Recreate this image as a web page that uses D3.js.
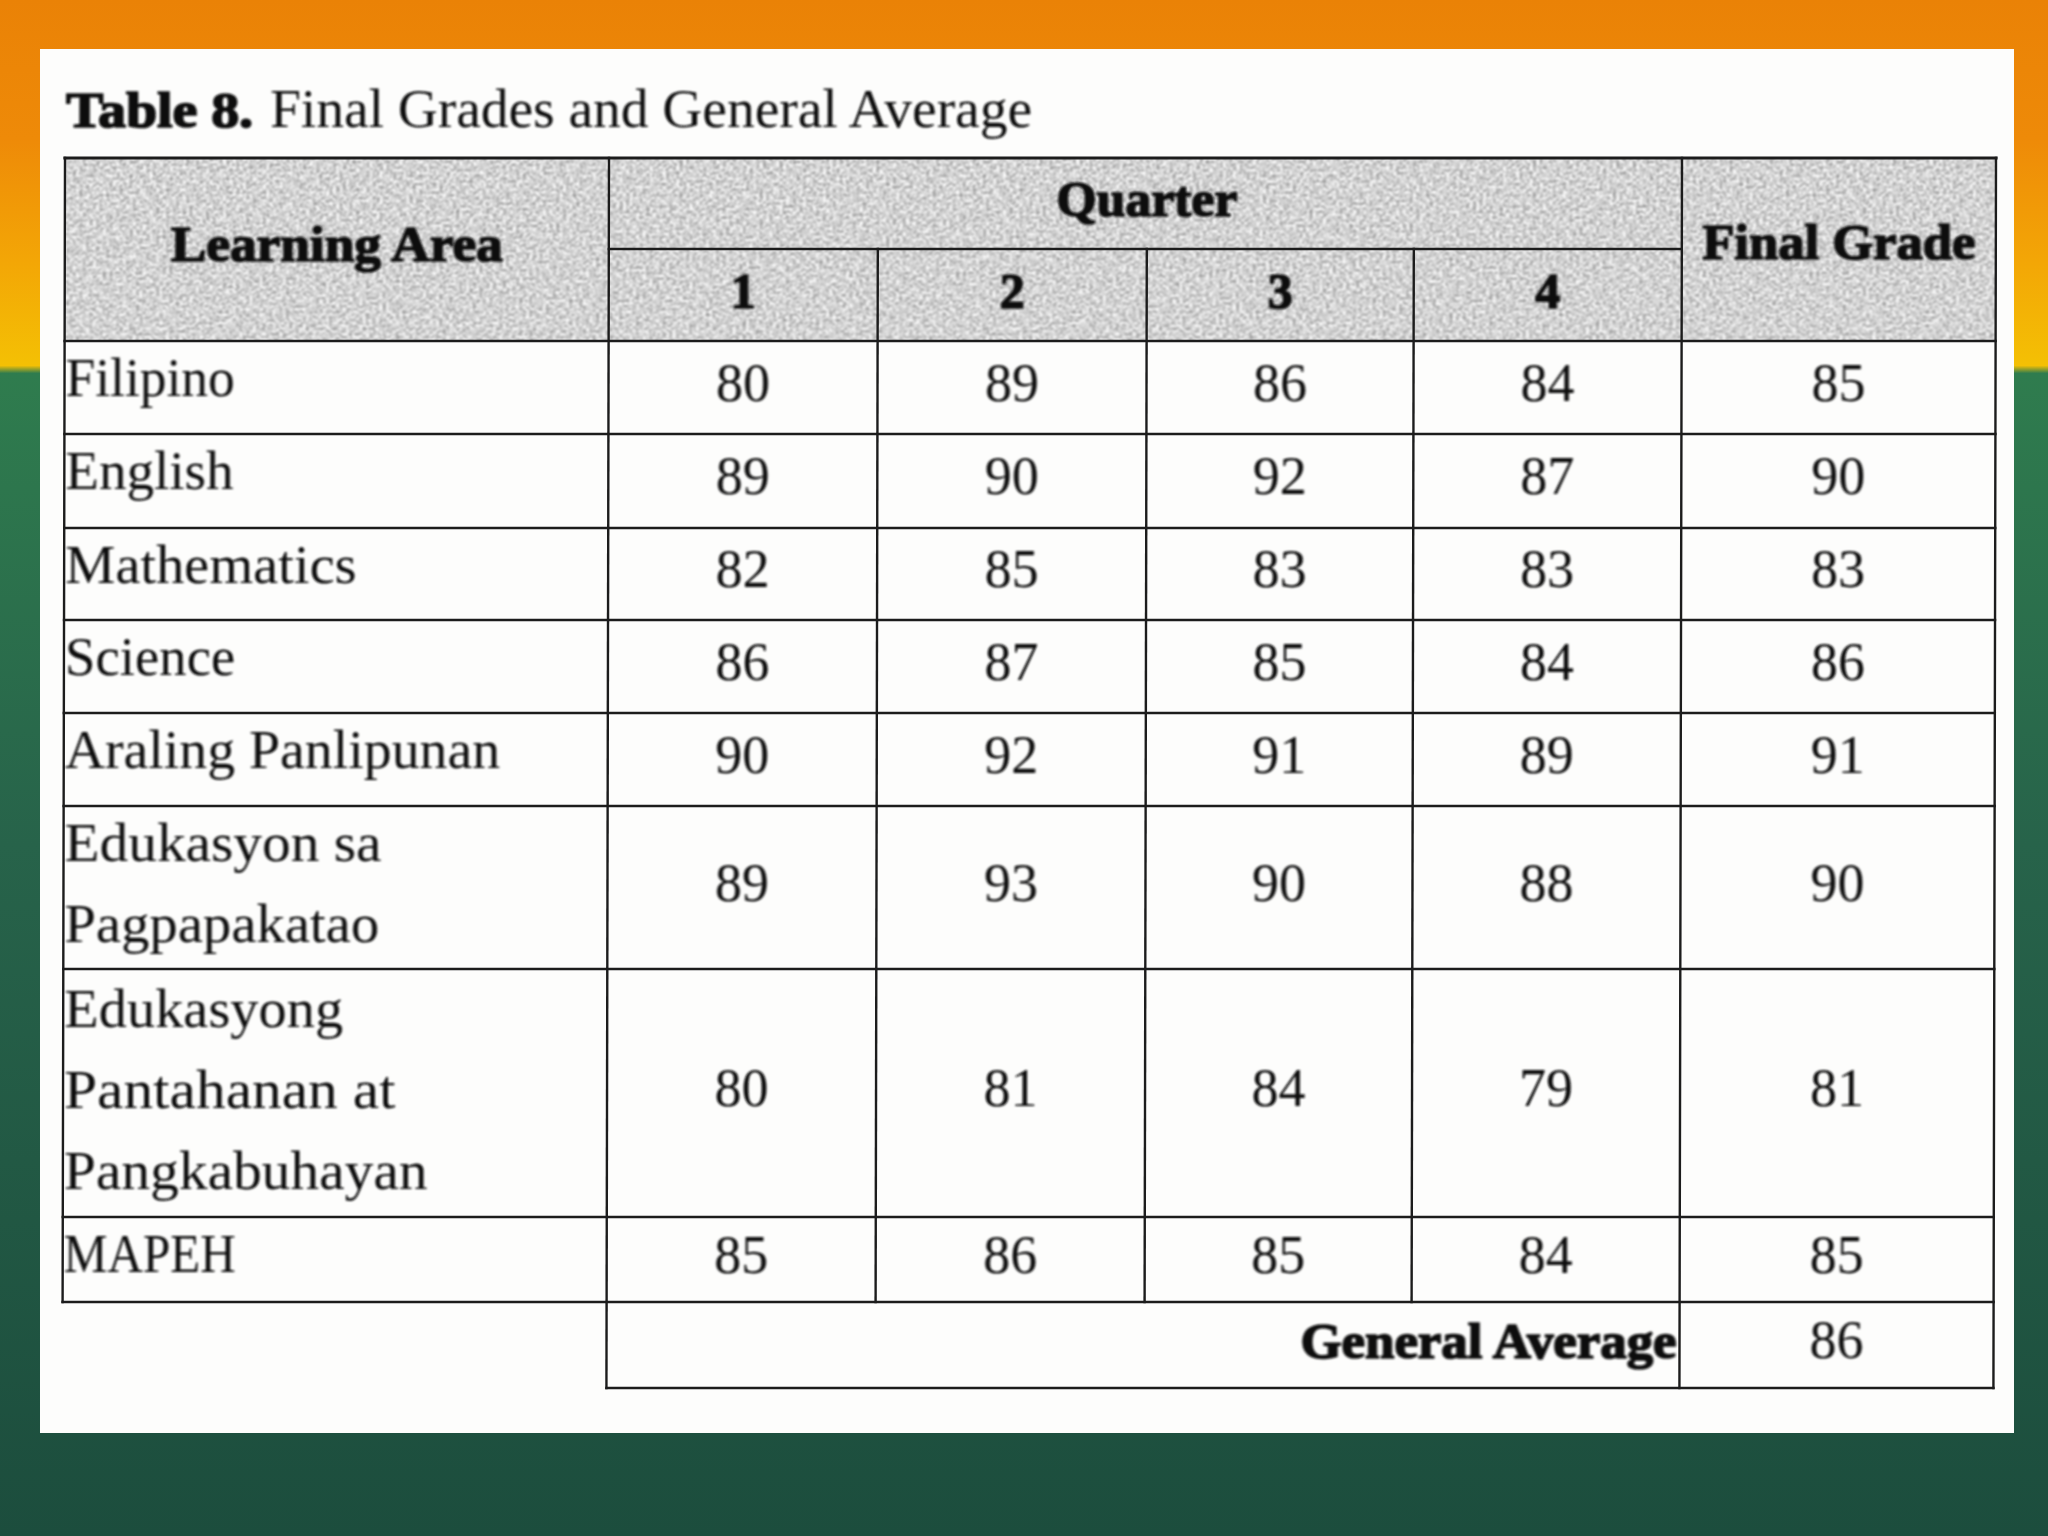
<!DOCTYPE html>
<html><head><meta charset="utf-8">
<script src="https://cdn.jsdelivr.net/npm/d3@7"></script>
<style>html,body{margin:0;padding:0;background:#1d4f3e}svg{display:block}</style></head>
<body><svg id="c" width="2048" height="1536"></svg>
<script>
const titleBold = "Table 8.";
const titleRest = "Final Grades and General Average";
const headLearning = "Learning Area";
const headQuarter = "Quarter";
const headFinal = "Final Grade";
const quarters = ["1","2","3","4"];
const areaLines = [["Filipino"],["English"],["Mathematics"],["Science"],["Araling Panlipunan"],["Edukasyon sa","Pagpapakatao"],["Edukasyong","Pantahanan at","Pangkabuhayan"],["MAPEH"]];
const q1 = [80,89,82,86,90,89,80,85];
const q2 = [89,90,85,87,92,93,81,86];
const q3 = [86,92,83,85,91,90,84,85];
const q4 = [84,87,83,84,89,88,79,84];
const finalGrade = [85,90,83,86,91,90,81,85];
const generalLabel = "General Average";
const generalValue = 86;

const columnEdges = [65,609,878,1147,1414,1682,1996];
const rowEdges = [341,434,528,620,713,806,969,1217,1302,1388];
const labelStretch = {"Filipino":0.99,"English":1.02,"Mathematics":1.045,"Science":1.014,"Araling Panlipunan":1.033,"Edukasyon sa":1.062,"Pagpapakatao":1.05,"Edukasyong":1.045,"Pantahanan at":1.1,"Pangkabuhayan":1.064,"MAPEH":0.91};
const x = d3.scaleLinear().domain(d3.range(columnEdges.length)).range(columnEdges);
const y = d3.scaleLinear().domain(d3.range(rowEdges.length)).range(rowEdges);
const headTop = 158, headMid = 249;
const cx = i => (x(i)+x(i+1))/2;
const cy = i => (y(i)+y(i+1))/2;

const svg = d3.select("#c");
const defs = svg.append("defs");
const bg = defs.append("linearGradient").attr("id","bg").attr("x1",0).attr("x2",0).attr("y1",0).attr("y2",1);
[[0,"#ea8206"],[0.09,"#ee8a08"],[0.17,"#f3a606"],[0.238,"#f4c004"],[0.243,"#2f7c4e"],[0.55,"#27634a"],[1,"#1c4d3d"]]
  .forEach(s=>bg.append("stop").attr("offset",s[0]).attr("stop-color",s[1]));
const soft = defs.append("filter").attr("id","soft").attr("x","-5%").attr("y","-20%").attr("width","110%").attr("height","140%");
soft.append("feGaussianBlur").attr("stdDeviation",0.85);
const noise = defs.append("filter").attr("id","noise").attr("x",0).attr("y",0).attr("width","100%").attr("height","100%").attr("color-interpolation-filters","sRGB");
noise.append("feTurbulence").attr("type","fractalNoise").attr("baseFrequency","0.3 0.36").attr("numOctaves",3).attr("seed",4);
noise.append("feColorMatrix").attr("type","matrix").attr("values","0.85 0 0 0 0.4  0.85 0 0 0 0.4  0.85 0 0 0 0.4  0 0 0 0 1");
noise.append("feGaussianBlur").attr("stdDeviation",1.1);

svg.append("rect").attr("width",2048).attr("height",1536).attr("fill","url(#bg)");
svg.append("rect").attr("x",40).attr("y",49).attr("width",1974).attr("height",1384).attr("fill","#fdfdfc");

const t = svg.append("g").attr("transform",`translate(0,${headTop}) skewX(-0.12) translate(0,${-headTop})`);

// header shading
t.append("rect").attr("x",x(0)).attr("y",headTop).attr("width",x(6)-x(0)).attr("height",y(0)-headTop)
  .attr("fill","#cfcfcf").attr("filter","url(#noise)");

// rules
const rules = t.append("g").attr("stroke","#1c1c1c").attr("stroke-width",2.4).attr("fill","none").attr("stroke-linecap","square");
const seg = (a,b,c,d,w)=>rules.append("line").attr("x1",a).attr("y1",b).attr("x2",c).attr("y2",d).attr("stroke-width",w||null);
seg(x(0),headTop,x(6),headTop,3.2);
seg(x(1),headMid,x(5),headMid);
d3.range(0,10).forEach(i=>seg(i===9?x(1):x(0),y(i),x(6),y(i)));
seg(x(0),headTop,x(0),y(8));
seg(x(1),headTop,x(1),y(9));
[2,3,4].forEach(i=>seg(x(i),headMid,x(i),y(8)));
seg(x(5),headTop,x(5),y(9));
seg(x(6),headTop,x(6),y(9));

const txt = t.append("g").attr("filter","url(#soft)").attr("font-family","'Liberation Serif',serif").attr("fill","#0c0c0c");
const body = (s,px,py,anchor,stretch)=>{const e=txt.append("text").attr("x",px).attr("y",py).attr("text-anchor",anchor||"middle").attr("font-size",54).text(s);
  if(stretch) e.attr("textLength",e.node().getComputedTextLength()*stretch).attr("lengthAdjust","spacingAndGlyphs"); return e;};
const bold = (s,px,py,anchor,len)=>{const e=txt.append("text").attr("x",px).attr("y",py).attr("text-anchor",anchor||"middle")
  .attr("font-size",50).attr("font-weight",700).attr("stroke","#0c0c0c").attr("stroke-width",1.7).text(s);
  if(len) e.attr("textLength",len).attr("lengthAdjust","spacingAndGlyphs"); return e;};

// title
bold(titleBold,66,127,"start",187);
body(titleRest,270,127,"start",1.026);

// header
bold(headLearning,cx(0),261,"middle",332);
bold(headQuarter,x(3),216,"middle",181);
bold(headFinal,cx(5),259,"middle",273);
quarters.forEach((q,i)=>bold(q,cx(i+1),308));

// rows
const series = [q1,q2,q3,q4,finalGrade];
areaLines.forEach((lines,r)=>{
  const top = lines.length===3 ? 58 : 55;
  lines.forEach((l,k)=>body(l,x(0)+1,y(r)+top+k*81,"start",labelStretch[l]));
  series.forEach((s,c)=>body(s[r],cx(c+1),cy(r)+13));
});
bold(generalLabel,x(5)-3,1358,"end",376);
body(generalValue,cx(5),1358);
</script></body></html>
